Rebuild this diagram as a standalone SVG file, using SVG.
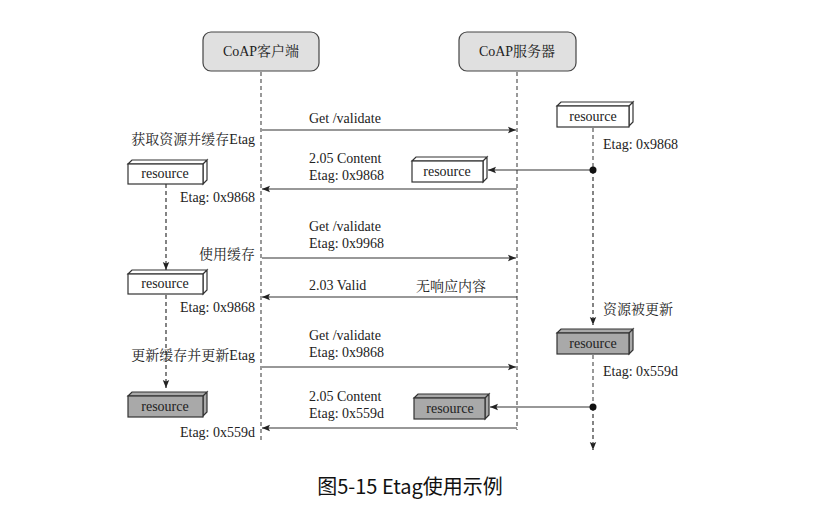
<svg xmlns="http://www.w3.org/2000/svg" width="824" height="514" viewBox="0 0 824 514">
<style>
text{font-family:"Liberation Serif","Noto Serif CJK SC","Noto Sans CJK SC",serif;font-size:14px;fill:#222}
.r{text-anchor:end}
.m{text-anchor:middle}
.life{stroke:#555;stroke-width:1.2;stroke-dasharray:4 3;fill:none}
.msg{stroke:#333;stroke-width:1.2;fill:none;marker-end:url(#ah)}
.dl{stroke:#333;stroke-width:1.2;stroke-dasharray:4 3;fill:none;marker-end:url(#ah)}
.hd{fill:#e0e0e0;stroke:#444;stroke-width:1.2}
.bw{fill:#fff;stroke:#333;stroke-width:1.2}
.bg{fill:#a9a9a9;stroke:#333;stroke-width:1.2}
</style>
<defs>
<marker id="ah" viewBox="0 0 10 10" refX="10" refY="5" markerWidth="8" markerHeight="8" orient="auto" markerUnits="userSpaceOnUse"><path d="M0,1 L10,5 L0,9 L2,5 Z" fill="#222"/></marker>
</defs>
<rect width="824" height="514" fill="#fff"/>
<g id="client"><rect class="hd" x="203" y="32" width="116" height="39" rx="8"/><text class="m" x="261" y="56">CoAP客户端</text></g>
<g id="server"><rect class="hd" x="459" y="32" width="117" height="39" rx="8"/><text class="m" x="517" y="56">CoAP服务器</text></g>
<g id="connectors">
<path class="life" d="M261,72V440"/>
<path class="life" d="M517,72V430"/>
<path class="life" d="M593,128V170"/>
<path class="dl" d="M593,170V325"/>
<path class="life" d="M593,355V407"/>
<path class="dl" d="M593,407V450"/>
<path class="dl" d="M166,184V270"/>
<path class="dl" d="M166,295V388"/>
<path class="msg" d="M262,130H516"/>
<path class="msg" d="M517,189H262"/>
<path class="msg" d="M262,258H516"/>
<path class="msg" d="M517,297H262"/>
<path class="msg" d="M262,367H516"/>
<path class="msg" d="M517,428H262"/>
<path class="msg" d="M593,170H488"/>
<path class="msg" d="M593,407H490"/>
<circle cx="593" cy="170" r="3.5" fill="#111"/>
<circle cx="593" cy="407" r="3.5" fill="#111"/>
</g>
<g id="labels">
<text x="309" y="123">Get /validate</text>
<text x="309" y="163">2.05 Content</text>
<text x="309" y="180">Etag: 0x9868</text>
<text x="309" y="231">Get /validate</text>
<text x="309" y="248">Etag: 0x9968</text>
<text x="309" y="290">2.03 Valid</text>
<text x="416" y="291">无响应内容</text>
<text x="309" y="340">Get /validate</text>
<text x="309" y="357">Etag: 0x9868</text>
<text x="309" y="401">2.05 Content</text>
<text x="309" y="418">Etag: 0x559d</text>
<text class="r" x="255" y="144">获取资源并缓存Etag</text>
<text class="r" x="255" y="202">Etag: 0x9868</text>
<text class="r" x="255" y="259">使用缓存</text>
<text class="r" x="255" y="312">Etag: 0x9868</text>
<text class="r" x="255" y="360">更新缓存并更新Etag</text>
<text class="r" x="255" y="437">Etag: 0x559d</text>
<text x="603" y="149">Etag: 0x9868</text>
<text x="603" y="314">资源被更新</text>
<text x="603" y="376">Etag: 0x559d</text>
</g>
<g id="res1"><path class="bw" d="M128,164l4,-4h75l-4,4zM203,164l4,-4v20l-4,4z"/><rect class="bw" x="128" y="164" width="75" height="20"/><text class="m" x="165" y="178">resource</text></g>
<g id="res2"><path class="bw" d="M128,274l4,-4h75l-4,4zM203,274l4,-4v20l-4,4z"/><rect class="bw" x="128" y="274" width="75" height="20"/><text class="m" x="165" y="288">resource</text></g>
<g id="res3"><path class="bg" d="M128,396l4,-4h75l-4,4zM203,396l4,-4v20l-4,4z"/><rect class="bg" x="128" y="396" width="75" height="21"/><text class="m" x="165" y="411">resource</text></g>
<g id="res4"><path class="bw" d="M412,161l4,-4h71l-4,4zM483,161l4,-4v21l-4,4z"/><rect class="bw" x="412" y="161" width="71" height="21"/><text class="m" x="447" y="176">resource</text></g>
<g id="res5"><path class="bg" d="M414,398l4,-4h71l-4,4zM485,398l4,-4v21l-4,4z"/><rect class="bg" x="414" y="398" width="71" height="21"/><text class="m" x="450" y="413">resource</text></g>
<g id="res6"><path class="bw" d="M557,106l4,-4h72l-4,4zM629,106l4,-4v20l-4,4z"/><rect class="bw" x="557" y="106" width="72" height="21"/><text class="m" x="593" y="121">resource</text></g>
<g id="res7"><path class="bg" d="M557,333l4,-4h72l-4,4zM629,333l4,-4v21l-4,4z"/><rect class="bg" x="557" y="333" width="72" height="21"/><text class="m" x="593" y="348">resource</text></g>
<text class="m" x="410" y="494" style="font-family:'Noto Sans CJK SC','Noto Sans',sans-serif;font-size:20px;fill:#111">图5-15 Etag使用示例</text>
</svg>
